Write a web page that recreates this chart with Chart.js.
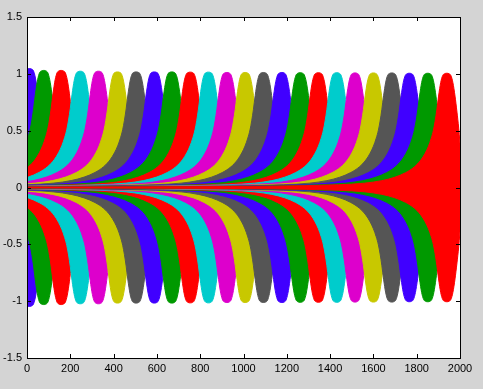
<!DOCTYPE html>
<html>
<head>
<meta charset="utf-8">
<script src="https://cdn.jsdelivr.net/npm/chart.js@4/dist/chart.umd.min.js"></script>
<style>
  html, body { margin: 0; padding: 0; background: #d4d4d4; }
  canvas { display: block; }
</style>
</head>
<body>
<canvas id="chart" width="483" height="389"></canvas>
<script>
// ---- data ----
// x of each lobe top (one per series, in drawing order) and its height
const peakX = [11, 77, 158, 246, 330, 418, 504, 588, 669, 754, 838, 923,
               1008, 1092, 1177, 1262, 1346, 1431, 1515, 1600, 1685, 1766, 1851, 1939];
const peakY = [1.046, 1.03, 1.03, 1.023, 1.023, 1.017, 1.017, 1.017, 1.017, 1.015, 1.015, 1.012,
               1.012, 1.012, 1.012, 1.01, 1.01, 1.01, 1.008, 1.008, 1.008, 1.005, 1.005, 1.005];
// envelope of one lobe: distance left (+) / right (-) of its peak, relative height
const lobeDx  = [2000, 1200, 800, 500, 380, 300, 240, 190, 150, 120, 100, 85, 72, 62, 54, 46, 38, 28, 19, 10, 0,
                 -10, -19, -28, -38, -47, -55, -65, -80, -95];
const lobeAmp = [0.004, 0.007, 0.012, 0.024, 0.038, 0.06, 0.09, 0.13, 0.18, 0.24, 0.3, 0.36, 0.43, 0.5, 0.58, 0.68, 0.8, 0.92, 0.98, 0.996, 1,
                 0.996, 0.98, 0.92, 0.8, 0.66, 0.52, 0.3, 0.1, 0];
const colorOrder = ["#4000ff", "#009900", "#ff0000", "#00cccc", "#dd00cc", "#c8c800", "#555555"];
const xTicks = [0, 200, 400, 600, 800, 1000, 1200, 1400, 1600, 1800, 2000];
const yTicks = [-1.5, -1, -0.5, 0, 0.5, 1, 1.5];

// ---- build datasets: each series is a band filled between +env and -env ----
const datasets = [];
peakX.forEach((px, k) => {
  const col = colorOrder[k % colorOrder.length];
  const upper = [], lower = [];
  for (let i = 0; i < lobeDx.length; i++) {
    upper.push({ x: px - lobeDx[i], y:  lobeAmp[i] * peakY[k] });
    lower.push({ x: px - lobeDx[i], y: -lobeAmp[i] * peakY[k] });
  }
  const order = peakX.length - k; // later series on top
  datasets.push({ data: upper, fill: "+1", backgroundColor: col, borderColor: col,
                  borderWidth: 1, pointRadius: 0, order, cubicInterpolationMode: "monotone" });
  datasets.push({ data: lower, fill: false, backgroundColor: col, borderColor: col,
                  borderWidth: 1, pointRadius: 0, order, cubicInterpolationMode: "monotone" });
});

// ---- white axes background, box and inward ticks (matlab look) ----
const axesBox = {
  id: "axesBox",
  beforeDraw(chart) {
    const { ctx, chartArea: a } = chart;
    ctx.save();
    ctx.fillStyle = "#fff";
    ctx.fillRect(a.left, a.top, a.right - a.left, a.bottom - a.top);
    ctx.restore();
  },
  afterDraw(chart) {
    const { ctx, chartArea: a, scales } = chart;
    const len = 4;
    ctx.save();
    ctx.strokeStyle = "#000";
    ctx.lineWidth = 1;
    ctx.beginPath();
    xTicks.forEach(v => {
      const x = Math.round(scales.x.getPixelForValue(v)) + 0.5;
      ctx.moveTo(x, a.bottom); ctx.lineTo(x, a.bottom - len);
      ctx.moveTo(x, a.top);    ctx.lineTo(x, a.top + len);
    });
    yTicks.forEach(v => {
      const y = Math.round(scales.y.getPixelForValue(v)) + 0.5;
      ctx.moveTo(a.left, y);  ctx.lineTo(a.left + len, y);
      ctx.moveTo(a.right, y); ctx.lineTo(a.right - len, y);
    });
    ctx.stroke();
    ctx.strokeRect(Math.round(a.left) + 0.5, Math.round(a.top) + 0.5,
                   Math.round(a.right - a.left), Math.round(a.bottom - a.top));
    ctx.restore();
  }
};

Chart.defaults.font.family = "'Liberation Sans', Arial, sans-serif";
Chart.defaults.font.size = 11;
Chart.defaults.color = "#000";

new Chart(document.getElementById("chart"), {
  type: "line",
  data: { datasets },
  options: {
    responsive: false,
    animation: false,
    events: [],
    layout: { padding: { top: 17, right: 23, left: 0, bottom: 0 } },
    plugins: { legend: { display: false }, tooltip: { enabled: false } },
    scales: {
      x: {
        type: "linear", min: 0, max: 2000,
        afterBuildTicks: s => { s.ticks = xTicks.map(v => ({ value: v })); },
        afterFit: s => { s.height = 31; },
        grid: { display: false, drawTicks: false },
        border: { display: false },
        ticks: { padding: 4, maxRotation: 0, autoSkip: false, callback: v => String(v) }
      },
      y: {
        type: "linear", min: -1.5, max: 1.5,
        afterBuildTicks: s => { s.ticks = yTicks.map(v => ({ value: v })); },
        afterFit: s => { s.width = 27; },
        grid: { display: false, drawTicks: false },
        border: { display: false },
        ticks: { padding: 5, autoSkip: false, callback: v => String(v) }
      }
    }
  },
  plugins: [axesBox]
});
</script>
</body>
</html>
